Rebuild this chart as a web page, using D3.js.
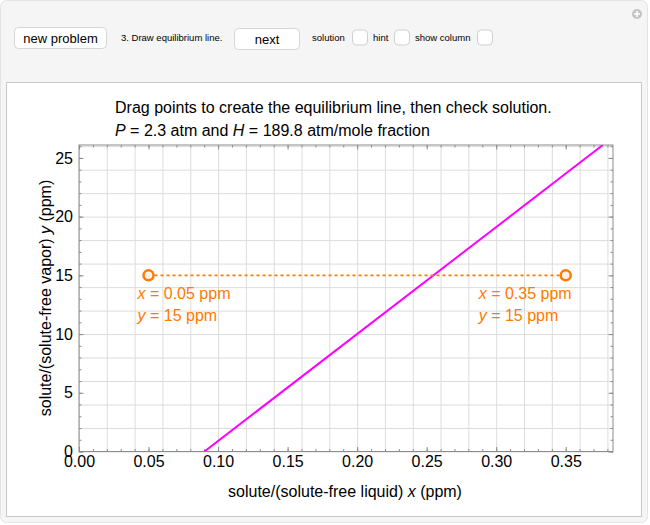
<!DOCTYPE html>
<html>
<head>
<meta charset="utf-8">
<script src="https://cdn.jsdelivr.net/npm/d3@7"></script>
<style>
  body { margin: 0; background: #fff; }
  text { font-family: "Liberation Sans", Arial, sans-serif; }
</style>
</head>
<body>
<svg id="chart"></svg>
<script>
// chart data
var xMajor = [0, 0.05, 0.10, 0.15, 0.20, 0.25, 0.30, 0.35];
var yMajor = [0, 5, 10, 15, 20, 25];
var xGrid = d3.range(0, 0.39, 0.02);
var yGrid = d3.range(0, 27, 2);
var xMinor = d3.range(0, 0.385, 0.01);
var yMinor = d3.range(0, 27, 1);
var lineX = [0.0902, 0.3767];
var lineY = [0, 26.1];
var pointX = [0.05, 0.35];
var pointY = [15, 15];

var svgWidth = 650, svgHeight = 525;
var plotLeft = 79, plotRight = 613, plotTop = 145, plotBottom = 451.5;

var svg = d3.select("#chart")
    .attr("width", svgWidth)
    .attr("height", svgHeight);

// outer gray panel + control bar
svg.append("rect")
    .attr("x", 0.5).attr("y", 0.5)
    .attr("width", 647).attr("height", 522)
    .attr("rx", 6)
    .attr("fill", "#f5f5f5")
    .attr("stroke", "#e4e4e4");

svg.append("circle")
    .attr("cx", 637).attr("cy", 14).attr("r", 5)
    .attr("fill", "#c4c4c4");
svg.append("path")
    .attr("d", "M634,14H640M637,11V17")
    .attr("stroke", "#fff").attr("stroke-width", 1.6);

function button(x, y, w, h, label) {
  svg.append("rect")
      .attr("x", x).attr("y", y).attr("width", w).attr("height", h)
      .attr("rx", 4)
      .attr("fill", "#fff")
      .attr("stroke", "#d6d6d6");
  svg.append("text")
      .attr("x", x + w / 2).attr("y", y + h / 2 + 4.5)
      .attr("text-anchor", "middle")
      .attr("font-size", 13)
      .text(label);
}
function smallText(x, label) {
  svg.append("text")
      .attr("x", x).attr("y", 41)
      .attr("font-size", 9.5)
      .text(label);
}
function checkbox(x) {
  svg.append("rect")
      .attr("x", x).attr("y", 30).attr("width", 15).attr("height", 15)
      .attr("rx", 4)
      .attr("fill", "#fff")
      .attr("stroke", "#cfcfcf");
}

button(14.5, 27.5, 92, 21, "new problem");
smallText(121, "3. Draw equilibrium line.");
button(234.5, 28.5, 65, 21, "next");
smallText(312, "solution");
checkbox(352.5);
smallText(373, "hint");
checkbox(394.5);
smallText(415, "show column");
checkbox(477.5);

// white content pane
svg.append("rect")
    .attr("x", 6.5).attr("y", 82.5)
    .attr("width", 635).attr("height", 434)
    .attr("fill", "#fff")
    .attr("stroke", "#c9c9c9");

// title
var title = svg.append("text")
    .attr("x", 115).attr("y", 113)
    .attr("font-size", 16);
title.append("tspan").text("Drag points to create the equilibrium line, then check solution.");
var t2 = svg.append("text")
    .attr("x", 115).attr("y", 135.5)
    .attr("font-size", 16);
t2.append("tspan").attr("font-style", "italic").text("P");
t2.append("tspan").text(" = 2.3 atm and ");
t2.append("tspan").attr("font-style", "italic").text("H");
t2.append("tspan").text(" = 189.8 atm/mole fraction");

var xScale = d3.scaleLinear()
    .domain([0, 0.384])
    .range([plotLeft, plotRight]);
var yScale = d3.scaleLinear()
    .domain([0, 26.1])
    .range([plotBottom, plotTop]);

var w = plotRight - plotLeft, h = plotBottom - plotTop;

// grid lines
svg.append("g")
    .attr("transform", "translate(0," + plotBottom + ")")
    .call(d3.axisBottom(xScale).tickValues(xGrid).tickSize(-h).tickFormat(""))
    .call(g => g.select(".domain").remove())
    .selectAll("line").attr("stroke", "#dcdcdc");
svg.append("g")
    .attr("transform", "translate(" + plotLeft + ",0)")
    .call(d3.axisLeft(yScale).tickValues(yGrid).tickSize(-w).tickFormat(""))
    .call(g => g.select(".domain").remove())
    .selectAll("line").attr("stroke", "#dcdcdc");

// frame ticks on all four sides
function ticks(axis, tr, vals, size) {
  svg.append("g")
      .attr("transform", tr)
      .call(axis.tickValues(vals).tickSize(size).tickFormat(""))
      .call(g => g.select(".domain").remove())
      .selectAll("line").attr("stroke", "#8c8c8c");
}
ticks(d3.axisBottom(xScale), "translate(0," + plotBottom + ")", xMinor, -2.5);
ticks(d3.axisBottom(xScale), "translate(0," + plotBottom + ")", xMajor, -4.5);
ticks(d3.axisTop(xScale), "translate(0," + plotTop + ")", xMinor, -2.5);
ticks(d3.axisTop(xScale), "translate(0," + plotTop + ")", xMajor, -4.5);
ticks(d3.axisLeft(yScale), "translate(" + plotLeft + ",0)", yMinor, -2.5);
ticks(d3.axisLeft(yScale), "translate(" + plotLeft + ",0)", yMajor, -4.5);
ticks(d3.axisRight(yScale), "translate(" + plotRight + ",0)", yMinor, -2.5);
ticks(d3.axisRight(yScale), "translate(" + plotRight + ",0)", yMajor, -4.5);

svg.append("rect")
    .attr("x", plotLeft).attr("y", plotTop)
    .attr("width", w).attr("height", h)
    .attr("fill", "none")
    .attr("stroke", "#8c8c8c");

// tick labels
var x_axis = d3.axisBottom(xScale)
    .tickValues(xMajor).tickSize(0).tickPadding(4)
    .tickFormat(d3.format(".2f"));
svg.append("g")
    .attr("transform", "translate(0," + plotBottom + ")")
    .call(x_axis)
    .call(g => g.select(".domain").remove())
    .selectAll("text")
    .attr("font-size", 16).attr("font-family", "Liberation Sans, Arial, sans-serif")
    .attr("fill", "#000");

var y_axis = d3.axisLeft(yScale)
    .tickValues(yMajor).tickSize(0).tickPadding(6)
    .tickFormat(d3.format("d"));
svg.append("g")
    .attr("transform", "translate(" + plotLeft + ",0)")
    .call(y_axis)
    .call(g => g.select(".domain").remove())
    .selectAll("text")
    .attr("font-size", 16).attr("font-family", "Liberation Sans, Arial, sans-serif")
    .attr("fill", "#000");

// axis titles
var xl = svg.append("text")
    .attr("x", 345).attr("y", 497)
    .attr("text-anchor", "middle")
    .attr("font-size", 16);
xl.append("tspan").text("solute/(solute-free liquid) ");
xl.append("tspan").attr("font-style", "italic").text("x");
xl.append("tspan").text(" (ppm)");

var yl = svg.append("text")
    .attr("transform", "translate(51,298) rotate(-90)")
    .attr("text-anchor", "middle")
    .attr("font-size", 16);
yl.append("tspan").text("solute/(solute-free vapor) ");
yl.append("tspan").attr("font-style", "italic").text("y");
yl.append("tspan").text(" (ppm)");

// equilibrium line (clipped to frame)
svg.append("clipPath").attr("id", "plotClip")
  .append("rect")
    .attr("x", plotLeft).attr("y", plotTop)
    .attr("width", w).attr("height", h);

var lineGen = d3.line()
    .x(d => xScale(d[0]))
    .y(d => yScale(d[1]));
svg.append("path")
    .datum(d3.zip(lineX, lineY))
    .attr("clip-path", "url(#plotClip)")
    .attr("d", lineGen)
    .attr("fill", "none")
    .attr("stroke", "#ff00ff")
    .attr("stroke-width", 2);

// dragged points
var orange = "#ff7a00";
svg.append("path")
    .datum(d3.zip(pointX, pointY))
    .attr("d", lineGen)
    .attr("fill", "none")
    .attr("stroke", orange)
    .attr("stroke-width", 1.6)
    .attr("stroke-dasharray", "3,3");

svg.selectAll(".pt")
    .data(d3.zip(pointX, pointY))
    .enter().append("circle")
    .attr("class", "pt")
    .attr("cx", d => xScale(d[0]))
    .attr("cy", d => yScale(d[1]))
    .attr("r", 5)
    .attr("fill", "#fff2ea")
    .attr("stroke", orange)
    .attr("stroke-width", 2.5);

var labelShift = [-11, -87];
pointX.forEach(function(px, i) {
  var lx = xScale(px) + labelShift[i];
  var ly = yScale(pointY[i]);
  var a = svg.append("text")
      .attr("x", lx).attr("y", ly + 23.5)
      .attr("font-size", 16).attr("fill", orange);
  a.append("tspan").attr("font-style", "italic").text("x");
  a.append("tspan").text(" = " + px.toFixed(2) + " ppm");
  var b = svg.append("text")
      .attr("x", lx).attr("y", ly + 45.5)
      .attr("font-size", 16).attr("fill", orange);
  b.append("tspan").attr("font-style", "italic").text("y");
  b.append("tspan").text(" = " + pointY[i] + " ppm");
});
</script>
</body>
</html>
